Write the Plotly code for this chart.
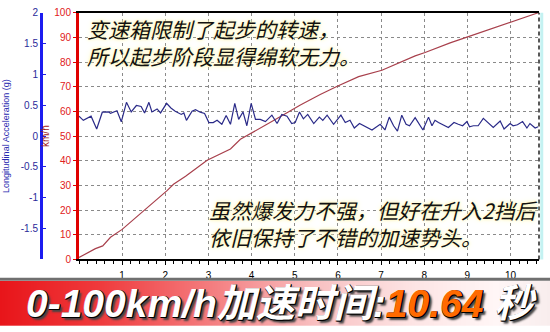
import plotly.graph_objects as go

# ---------------- data ----------------
speed_t = [0.0, 0.2, 0.38, 0.55, 0.73, 1.0, 1.5, 2.04, 2.19, 2.47, 2.97, 3.51, 3.74,
           4.01, 4.59, 5.13, 5.59, 6.01, 6.48, 7.02, 7.79, 8.02, 8.6, 8.99, 9.99, 10.64]
speed_kmh = [0.8, 2.8, 4.4, 5.5, 9.0, 12.2, 19.6, 27.9, 30.5, 33.7, 40.2, 44.8, 48.7,
             51.3, 57.1, 62.6, 66.9, 70.4, 74.1, 76.7, 82.5, 83.9, 87.8, 90.1, 96.2, 100.0]

acc_t = [0.00, 0.10, 0.28, 0.41, 0.54, 0.69, 0.73, 0.88, 0.98, 1.10, 1.21, 1.33, 1.44,
         1.52, 1.62, 1.69, 1.81, 1.89, 2.03, 2.13, 2.23, 2.37, 2.43, 2.49, 2.62, 2.70,
         2.81, 2.91, 3.01, 3.11, 3.20, 3.31, 3.41, 3.51, 3.61, 3.70, 3.80, 3.89, 3.99,
         4.09, 4.20, 4.32, 4.47, 4.59, 4.70, 4.82, 4.93, 5.01, 5.11, 5.20, 5.30, 5.44,
         5.57, 5.65, 5.75, 5.90, 6.07, 6.17, 6.28, 6.38, 6.50, 6.79, 6.98, 7.09, 7.19,
         7.29, 7.38, 7.48, 7.58, 7.66, 7.79, 7.97, 8.10, 8.18, 8.25, 8.33, 8.56, 8.69,
         8.79, 8.89, 8.99, 9.05, 9.14, 9.25, 9.37, 9.49, 9.60, 9.76, 9.85, 9.99, 10.06,
         10.16, 10.28, 10.38, 10.45, 10.57, 10.64]
acc_g = [0.324, 0.256, 0.324, 0.116, 0.388, 0.392, 0.368, 0.412, 0.232, 0.548, 0.392,
         0.496, 0.480, 0.376, 0.548, 0.392, 0.440, 0.376, 0.532, 0.456, 0.404, 0.352,
         0.376, 0.256, 0.404, 0.428, 0.388, 0.368, 0.220, 0.220, 0.256, 0.192, 0.336,
         0.192, 0.532, 0.272, 0.392, 0.168, 0.532, 0.272, 0.272, 0.236, 0.340, 0.204,
         0.352, 0.324, 0.204, 0.220, 0.392, 0.280, 0.352, 0.204, 0.308, 0.256, 0.340,
         0.192, 0.340, 0.220, 0.256, 0.132, 0.204, 0.100, 0.192, 0.100, 0.308, 0.168,
         0.080, 0.340, 0.192, 0.168, 0.300, 0.100, 0.308, 0.168, 0.256, 0.220, 0.140,
         0.220, 0.192, 0.168, 0.236, 0.152, 0.168, 0.168, 0.288, 0.204, 0.140, 0.244,
         0.116, 0.204, 0.168, 0.184, 0.236, 0.132, 0.204, 0.132, 0.152]

x_ticks = [1, 2, 3, 4, 5, 6, 7, 8, 9, 10]
kmh_ticks = [0, 10, 20, 30, 40, 50, 60, 70, 80, 90, 100]
g_ticks = [-1.5, -1, -0.5, 0, 0.5, 1, 1.5, 2]
g_tick_labels = ["-1.5", "-1", "-0.5", "0", "0.5", "1", "1.5", "2"]

note_top = "变速箱限制了起步的转速，<br>所以起步阶段显得绵软无力。"
note_bottom = "虽然爆发力不强，但好在升入2挡后<br>依旧保持了不错的加速势头。"
banner_label = "0-100km/h加速时间:"
banner_value = "10.64"
banner_unit = "秒"
banner_gradient = [0.0, 0.2, 0.4, 0.6, 0.8, 1.0]

# ---------------- styling ----------------
W, H = 550, 332
FONT = "Liberation Sans, Arial, Noto Sans CJK SC, sans-serif"
CJK = "Noto Sans CJK SC, Liberation Sans, sans-serif"
plot_left, plot_right, plot_top, plot_bottom = 79, 539, 7, 263
banner_top = 285

fig = go.Figure()

fig.add_trace(go.Heatmap(
    z=[banner_gradient], x=banner_gradient, y=[0],
    xaxis="x3", yaxis="y3", zsmooth="best", showscale=False, hoverinfo="skip",
    colorscale=[[0.0, "#e8151a"], [0.18, "#ef3a3c"], [0.38, "#f47c7e"],
                [0.58, "#f8c2c3"], [0.75, "#fde4e4"], [0.9, "#fff6f6"], [1.0, "#f8eded"]],
))

fig.add_trace(go.Scatter(
    x=speed_t, y=speed_kmh, mode="lines",
    line=dict(color="#a8404c", width=1.2), xaxis="x", yaxis="y", hoverinfo="skip",
))
fig.add_trace(go.Scatter(
    x=acc_t, y=acc_g, mode="lines",
    line=dict(color="#2a2a88", width=1.2), xaxis="x", yaxis="y2", hoverinfo="skip",
))

grid = dict(showgrid=True, gridcolor="#8a8a8a", gridwidth=1, griddash="3px,3px")

fig.update_layout(
    width=W, height=H, margin=dict(l=0, r=0, t=0, b=0),
    paper_bgcolor="white", plot_bgcolor="white", showlegend=False,
    font=dict(family=FONT, size=10, color="black"),
    xaxis=dict(
        domain=[plot_left / W, plot_right / W], range=[0, 10.66],
        tickvals=x_ticks, ticks="outside", ticklen=4, tickcolor="black",
        minor=dict(dtick=0.2, tick0=0, ticks="outside", ticklen=3, tickcolor="black", showgrid=False),
        showline=True, linecolor="black", linewidth=2, mirror=True,
        tickfont=dict(size=10, color="black"), ticklabelstandoff=2, zeroline=False, **grid,
    ),
    yaxis=dict(
        domain=[(H - plot_bottom) / H, (H - plot_top) / H], range=[0, 100],
        tickvals=kmh_ticks, ticks="outside", ticklen=3, tickcolor="#e00000",
        showline=True, linecolor="#e00000", linewidth=3,
        tickfont=dict(size=10, color="#e02020"), zeroline=False,
        title=dict(text="km/h", font=dict(size=10, color="#a02020"), standoff=3),
        **grid,
    ),
    yaxis2=dict(
        overlaying="y", anchor="free", position=41 / W, side="left",
        range=[-2, 2], tickvals=g_ticks, ticktext=g_tick_labels,
        ticks="inside", ticklen=3, tickcolor="#2020e0",
        showline=True, linecolor="#1c1cf0", linewidth=3, showgrid=False, zeroline=False,
        tickfont=dict(size=10, color="#2a2a9a"),
        title=dict(text="Longitudinal Acceleration (g)", font=dict(size=9, color="#2a2ab0"), standoff=8),
    ),
    xaxis3=dict(domain=[0, 1], anchor="y3", range=[0, 1], visible=False, fixedrange=True),
    yaxis3=dict(domain=[0, (H - banner_top) / H], anchor="x3",
                range=[-0.5, 0.5], visible=False, fixedrange=True),
)

shapes = [
    dict(type="rect", xref="paper", yref="paper", x0=0, x1=1,
         y0=(H - banner_top) / H, y1=(H - banner_top + 3) / H,
         fillcolor="#707070", line=dict(width=0), layer="above"),
    dict(type="line", xref="x domain", yref="y domain", x0=1.006, x1=1.006, y0=0, y1=1,
         line=dict(color="#c4f2f2", width=3)),
    dict(type="line", xref="x domain", yref="y domain", x0=1, x1=1, y0=0, y1=1,
         line=dict(color="#222222", width=1.5, dash="4px,3px")),
]
fig.update_layout(shapes=shapes)

note_font = dict(family=CJK, size=21, color="#111111", style="italic",
                 shadow="0 0 3px #fff3a0, 0 0 6px #fff8c0")
fig.add_annotation(text=note_top, xref="x", yref="y", x=0.14, y=88,
                   xanchor="left", yanchor="middle", align="left", showarrow=False, font=note_font)
fig.add_annotation(text=note_bottom, xref="x", yref="y", x=2.96, y=14.5,
                   xanchor="left", yanchor="middle", align="left", showarrow=False, font=note_font)

banner_text = (f"{banner_label}<span style='color:#ff6a00'>{banner_value}</span> {banner_unit}")
fig.add_annotation(text=banner_text, xref="paper", yref="paper", x=24 / W, y=(H - 309) / H,
                   xanchor="left", yanchor="middle", showarrow=False,
                   font=dict(family=FONT, size=39, color="white", weight="bold", style="italic",
                             shadow="1px 0px 0px, 0px 1px 0px, 1px 1px 0px, 3px 3px 2px #444"))

fig.write_html("out.html")
